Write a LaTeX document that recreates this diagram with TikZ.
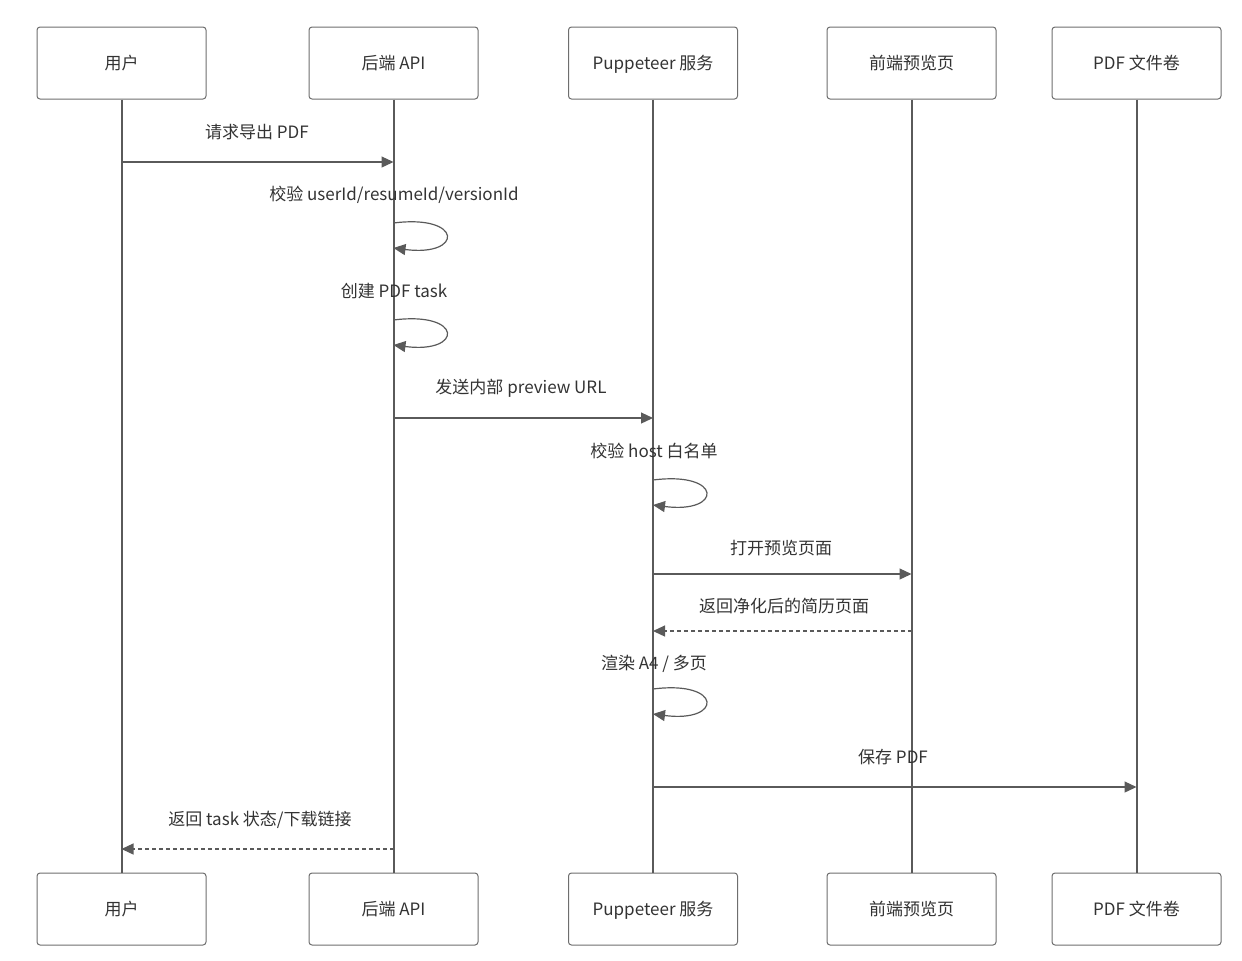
\documentclass[tikz,border=0pt]{standalone}
\usepackage{fontspec}
\setmainfont{Noto Sans CJK SC}
\usetikzlibrary{arrows.meta}
\definecolor{linegray}{HTML}{5A5A5A}
\definecolor{boxgray}{HTML}{6E6E6E}
\definecolor{txtgray}{HTML}{333333}
\tikzset{
	actor/.style={draw=boxgray,line width=0.5pt,rounded corners=1.5pt,fill=white,
		minimum width=84.5pt,minimum height=36pt,text=txtgray,
		text height=0.8em,text depth=0.2em,font=\fontsize{8.5}{10}\selectfont},
	life/.style={linegray,line width=1pt},
	msg/.style={linegray,line width=0.6pt,-{Triangle[length=6pt,width=5.5pt]}},
	reply/.style={msg,dash pattern=on 2pt off 1.5pt},
	lbl/.style={text=txtgray,font=\fontsize{8.5}{10}\selectfont,inner sep=0pt}
}
\begin{document}
\begin{tikzpicture}[x=0.5pt,y=-0.5pt]
	\useasboundingbox (0,0) rectangle (1242,960);
	
	% The participants
	\node[actor] (user) at (121.5,63) {用户};
	\node[actor] (api) at (393.5,63) {后端 API};
	\node[actor] (pup) at (653,63) {Puppeteer 服务};
	\node[actor] (front) at (911.5,63) {前端预览页};
	\node[actor] (vol) at (1136.5,63) {PDF 文件卷};
	
	\node[actor] (user2) at (121.5,909) {用户};
	\node[actor] (api2) at (393.5,909) {后端 API};
	\node[actor] (pup2) at (653,909) {Puppeteer 服务};
	\node[actor] (front2) at (911.5,909) {前端预览页};
	\node[actor] (vol2) at (1136.5,909) {PDF 文件卷};
	
	% The lifelines
	\foreach \who in {user,api,pup,front,vol}
	{
		\draw[life] (\who.south) -- (\who2.north);
	}
	
	% The messages
	\node[lbl] (m1) at (257,132) {请求导出 PDF};
	\draw[msg] (user |- 0,162) -- (api |- 0,162);
	
	\node[lbl] (m2) at (394,195) {校验 userId/resumeId/versionId};
	\draw[msg] (api |- 0,223) .. controls +(70,-9) and +(70,9) .. (api |- 0,248);
	
	\node[lbl] (m3) at (394,291) {创建 PDF task};
	\draw[msg] (api |- 0,320) .. controls +(70,-9) and +(70,9) .. (api |- 0,345);
	
	\node[lbl] (m4) at (521,388) {发送内部 preview URL};
	\draw[msg] (api |- 0,418) -- (pup |- 0,418);
	
	\node[lbl] (m5) at (654,451) {校验 host 白名单};
	\draw[msg] (pup |- 0,480) .. controls +(70,-9) and +(70,9) .. (pup |- 0,505);
	
	\node[lbl] (m6) at (781,548) {打开预览页面};
	\draw[msg] (pup |- 0,574) -- (front |- 0,574);
	
	\node[lbl] (m7) at (784,606) {返回净化后的简历页面};
	\draw[reply] (front |- 0,631) -- (pup |- 0,631);
	
	\node[lbl] (m8) at (654,664) {渲染 A4 / 多页};
	\draw[msg] (pup |- 0,689) .. controls +(70,-9) and +(70,9) .. (pup |- 0,714);
	
	\node[lbl] (m9) at (893,757) {保存 PDF};
	\draw[msg] (pup |- 0,787) -- (vol |- 0,787);
	
	\node[lbl] (m10) at (260,820) {返回 task 状态/下载链接};
	\draw[reply] (api |- 0,849) -- (user |- 0,849);
\end{tikzpicture}
\end{document}
